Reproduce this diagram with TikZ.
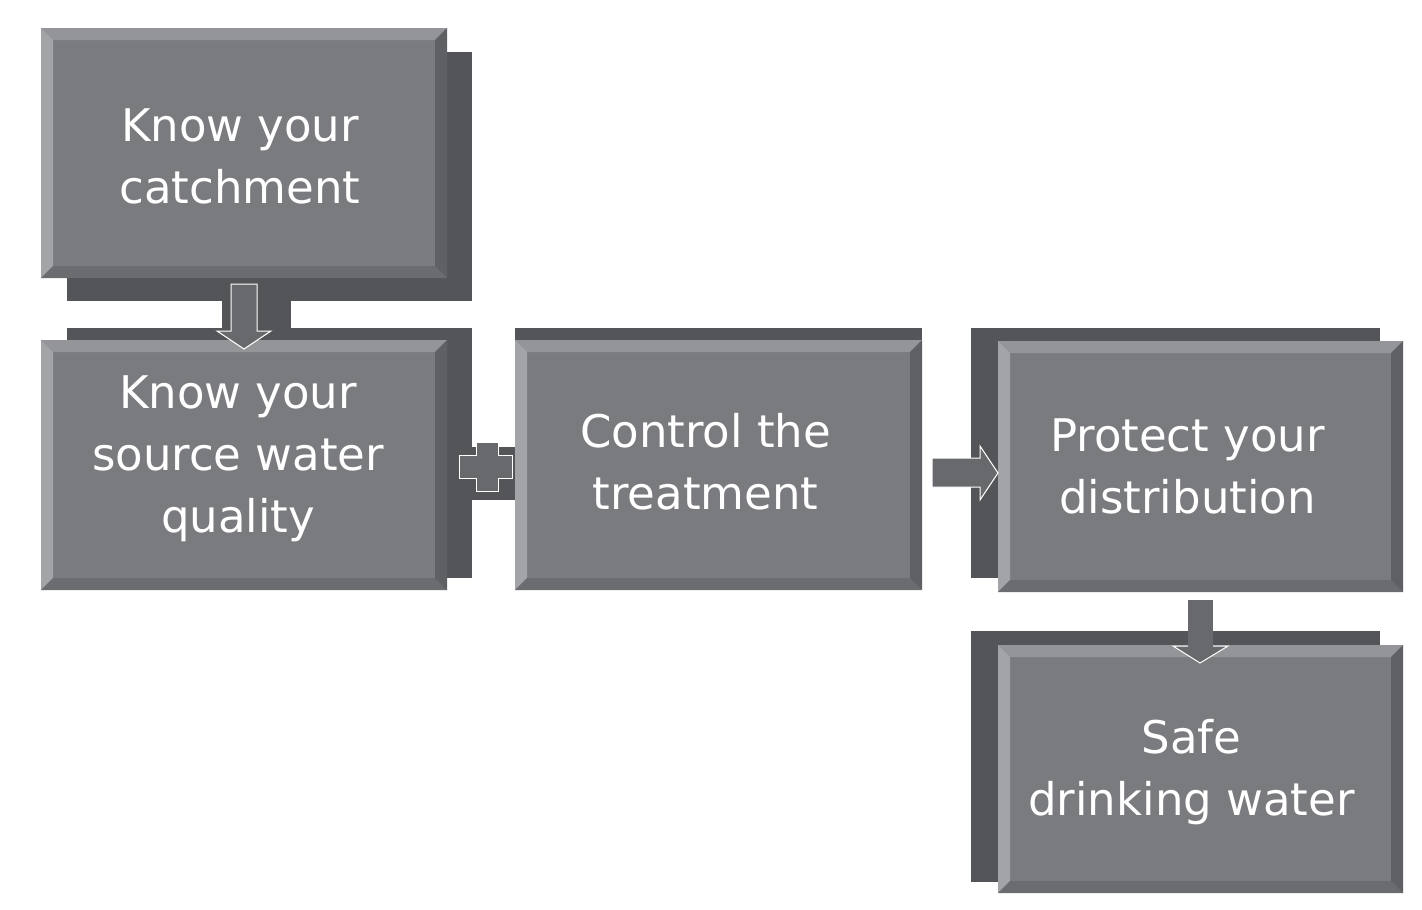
\documentclass[tikz,border=0pt]{standalone}
\usepackage{fontspec}
\setmainfont{DejaVu Sans}
\definecolor{face}{HTML}{7A7B7F}
\definecolor{btop}{HTML}{949599}
\definecolor{bleft}{HTML}{A3A4A8}
\definecolor{bbot}{HTML}{6B6C70}
\definecolor{bright}{HTML}{5F6064}
\definecolor{shad}{HTML}{545558}
\definecolor{arr}{HTML}{68696D}
\tikzset{lbl/.style={text=white,align=center,font=\fontsize{45}{62}\selectfont}}
\newcommand{\bevbox}[5]{% name x1 y1 x2 y2
 \fill[face] (#2,#3) rectangle (#4,#5);
 \fill[btop] (#2,#3) -- (#4,#3) -- ($(#4,#3)+(-12,12)$) -- ($(#2,#3)+(12,12)$) -- cycle;
 \fill[bleft] (#2,#3) -- ($(#2,#3)+(12,12)$) -- ($(#2,#5)+(12,-12)$) -- (#2,#5) -- cycle;
 \fill[bbot] (#2,#5) -- ($(#2,#5)+(12,-12)$) -- ($(#4,#5)+(-12,-12)$) -- (#4,#5) -- cycle;
 \fill[bright] (#4,#3) -- ($(#4,#3)+(-12,12)$) -- ($(#4,#5)+(-12,-12)$) -- (#4,#5) -- cycle;
 \coordinate (#1) at ($(#2,#3)!0.5!(#4,#5)$);}
\usetikzlibrary{calc}
\begin{document}
\begin{tikzpicture}[x=1pt,y=-1pt]
\useasboundingbox (0,0) rectangle (1422,910);
% shadows
\fill[shad] (67,52) rectangle (472,301);
\fill[shad] (67,328) rectangle (472,578);
\fill[shad] (515,328) rectangle (922,578);
\fill[shad] (971,328) rectangle (1380,578);
\fill[shad] (971,631) rectangle (1380,882);
\fill[shad] (222,300) rectangle (291,356);
\fill[shad] (471,447) rectangle (527,500);
\bevbox{b1}{41}{28}{447}{278}
\bevbox{b2}{41}{340}{447}{590}
\bevbox{b3}{515}{340}{922}{590}
\bevbox{b4}{998}{341}{1403}{592}
\bevbox{b5}{998}{645}{1403}{893}
\node[lbl] at ($(b1)+(-4,3)$) {Know your\\catchment};
\node[lbl] at ($(b2)+(-6,-6)$) {Know your\\source water\\quality};
\node[lbl] at ($(b3)+(-13,-3)$) {Control the\\treatment};
\node[lbl] at ($(b4)+(-13,-0)$) {Protect your\\distribution};
\node[lbl] at ($(b5)+(-9,3)$) {Safe\\drinking water};
% arrows
\draw[white,fill=arr,line width=1pt] (231,284) -- (257,284) -- (257,331) -- (271,331) -- (244,349) -- (217,331) -- (231,331) -- cycle;
\draw[white,fill=arr,line width=1pt] (476,442) -- (498,442) -- (498,455) -- (512,455) -- (512,478) -- (498,478) -- (498,491) -- (476,491) -- (476,478) -- (459,478) -- (459,455) -- (476,455) -- cycle;
\draw[white,fill=arr,line width=1pt] (932,458) -- (980,458) -- (980,446) -- (998,473) -- (980,500) -- (980,487) -- (932,487) -- cycle;
\fill[arr] (1188,600) rectangle (1213,646);
\draw[white,fill=arr,line width=1pt] (1188,646) -- (1173,646) -- (1200,663) -- (1228,646) -- (1213,646);
\end{tikzpicture}
\end{document}
